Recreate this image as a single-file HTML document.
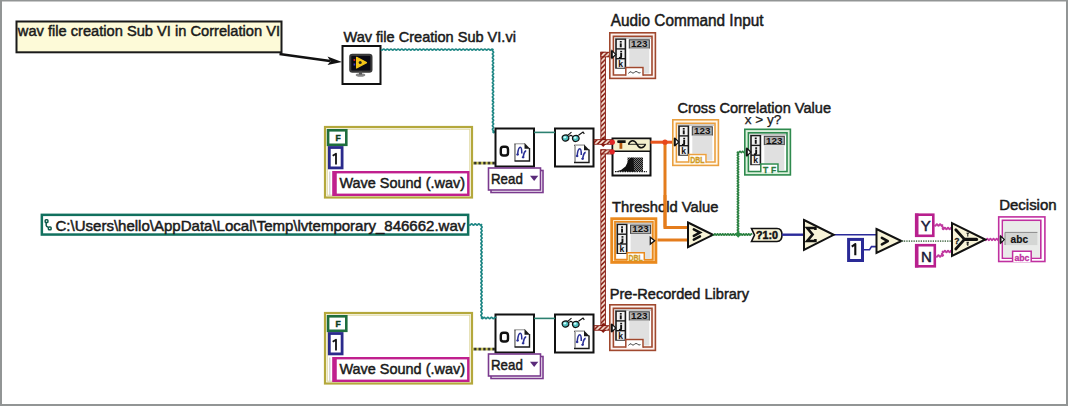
<!DOCTYPE html>
<html><head><meta charset="utf-8"><style>
html,body{margin:0;padding:0;background:#fff;}
body{width:1068px;height:406px;overflow:hidden;}
svg{display:block;}
</style></head><body>
<svg width="1068" height="406" viewBox="0 0 1068 406" font-family='"Liberation Sans", sans-serif'>
<defs>
<pattern id="stripe" patternUnits="userSpaceOnUse" width="4.8" height="4.8">
 <rect width="4.8" height="4.8" fill="#861a10"/>
 <path d="M-1 5.8 L5.8 -1 M-1 1 L1 -1 M3.8 5.8 L5.8 3.8" stroke="#fff2e4" stroke-width="1.7"/>
</pattern>
<pattern id="chk" patternUnits="userSpaceOnUse" width="2" height="2">
 <rect width="2" height="2" fill="#777"/>
 <rect width="1" height="1" fill="#111"/><rect x="1" y="1" width="1" height="1" fill="#111"/>
</pattern>
<pattern id="clus" patternUnits="userSpaceOnUse" width="4.6" height="5">
 <rect width="4.6" height="5" fill="#c8c458"/>
 <rect x="0.3" y="0" width="2.2" height="5" fill="#222"/>
</pattern>
</defs>
<rect x="0" y="0" width="1068" height="406" fill="#929595"/>
<rect x="2" y="1.5" width="1064" height="402.5" fill="#fff"/>
<rect x="16.5" y="21.5" width="265" height="30.8" fill="#fdfad8" stroke="#1a1a1a" stroke-width="2"/>
<text x="17.8" y="36.3" font-size="15.5" font-weight="normal" fill="#1a1a1a" text-anchor="start" textLength="262.2" lengthAdjust="spacingAndGlyphs"  stroke="#1a1a1a" stroke-width="0.5">wav file creation Sub VI in Correlation VI</text>
<path d="M279.5 54 L330 61" stroke="#111" stroke-width="2.6" fill="none"/>
<path d="M342 62 L327.5 56.5 L330.5 61.3 L327.5 65 Z" fill="#111"/>
<text x="343.5" y="42" font-size="14.8" font-weight="normal" fill="#1a1a1a" text-anchor="start" textLength="172.4" lengthAdjust="spacingAndGlyphs"  stroke="#1a1a1a" stroke-width="0.5">Wav file Creation Sub VI.vi</text>
<rect x="342.5" y="46" width="38" height="38" fill="#fff" stroke="#111" stroke-width="2"/>
<rect x="349.2" y="53.8" width="23.3" height="18.9" rx="3.2" fill="#3a3a3a"/>
<rect x="351.3" y="55.9" width="19.1" height="14.7" rx="0.8" fill="#0a0a14"/>
<path d="M356.6 57.3 L366.5 62.6 L356.6 68 Z" fill="#f2c418" stroke="#f2c418" stroke-width="1.2" stroke-linejoin="round"/>
<circle cx="360.2" cy="62.6" r="1.5" fill="#222"/>
<rect x="353.6" y="59" width="1.6" height="2" fill="#d02020"/><rect x="353.6" y="63.5" width="1.6" height="2" fill="#4040d0"/>
<ellipse cx="360.5" cy="75" rx="4.8" ry="1.8" fill="#888"/>
<rect x="359" y="71.5" width="3" height="3" fill="#555"/>
<path d="M381.00 49.60 Q381.90 50.80 382.81 49.60 Q383.71 48.40 384.61 49.60 Q385.52 50.80 386.42 49.60 Q387.32 48.40 388.23 49.60 Q389.13 50.80 390.03 49.60 Q390.94 48.40 391.84 49.60 Q392.74 50.80 393.65 49.60 Q394.55 48.40 395.45 49.60 Q396.35 50.80 397.26 49.60 Q398.16 48.40 399.06 49.60 Q399.97 50.80 400.87 49.60 Q401.77 48.40 402.68 49.60 Q403.58 50.80 404.48 49.60 Q405.39 48.40 406.29 49.60 Q407.19 50.80 408.10 49.60 Q409.00 48.40 409.90 49.60 Q410.81 50.80 411.71 49.60 Q412.61 48.40 413.52 49.60 Q414.42 50.80 415.32 49.60 Q416.23 48.40 417.13 49.60 Q418.03 50.80 418.94 49.60 Q419.84 48.40 420.74 49.60 Q421.65 50.80 422.55 49.60 Q423.45 48.40 424.35 49.60 Q425.26 50.80 426.16 49.60 Q427.06 48.40 427.97 49.60 Q428.87 50.80 429.77 49.60 Q430.68 48.40 431.58 49.60 Q432.48 50.80 433.39 49.60 Q434.29 48.40 435.19 49.60 Q436.10 50.80 437.00 49.60 Q437.90 48.40 438.81 49.60 Q439.71 50.80 440.61 49.60 Q441.52 48.40 442.42 49.60 Q443.32 50.80 444.23 49.60 Q445.13 48.40 446.03 49.60 Q446.94 50.80 447.84 49.60 Q448.74 48.40 449.65 49.60 Q450.55 50.80 451.45 49.60 Q452.35 48.40 453.26 49.60 Q454.16 50.80 455.06 49.60 Q455.97 48.40 456.87 49.60 Q457.77 50.80 458.68 49.60 Q459.58 48.40 460.48 49.60 Q461.39 50.80 462.29 49.60 Q463.19 48.40 464.10 49.60 Q465.00 50.80 465.90 49.60 Q466.81 48.40 467.71 49.60 Q468.61 50.80 469.52 49.60 Q470.42 48.40 471.32 49.60 Q472.23 50.80 473.13 49.60 Q474.03 48.40 474.94 49.60 Q475.84 50.80 476.74 49.60 Q477.65 48.40 478.55 49.60 Q479.45 50.80 480.35 49.60 Q481.26 48.40 482.16 49.60 Q483.06 50.80 483.97 49.60 Q484.87 48.40 485.77 49.60 Q486.68 50.80 487.58 49.60 Q488.48 48.40 489.39 49.60 Q490.29 50.80 491.19 49.60 Q492.10 48.40 493.00 49.60 Q491.80 50.50 493.00 51.39 Q494.20 52.29 493.00 53.18 Q491.80 54.08 493.00 54.97 Q494.20 55.87 493.00 56.77 Q491.80 57.66 493.00 58.56 Q494.20 59.45 493.00 60.35 Q491.80 61.24 493.00 62.14 Q494.20 63.03 493.00 63.93 Q491.80 64.83 493.00 65.72 Q494.20 66.62 493.00 67.51 Q491.80 68.41 493.00 69.30 Q494.20 70.20 493.00 71.10 Q491.80 71.99 493.00 72.89 Q494.20 73.78 493.00 74.68 Q491.80 75.57 493.00 76.47 Q494.20 77.37 493.00 78.26 Q491.80 79.16 493.00 80.05 Q494.20 80.95 493.00 81.84 Q491.80 82.74 493.00 83.63 Q494.20 84.53 493.00 85.43 Q491.80 86.32 493.00 87.22 Q494.20 88.11 493.00 89.01 Q491.80 89.90 493.00 90.80 Q494.20 91.70 493.00 92.59 Q491.80 93.49 493.00 94.38 Q494.20 95.28 493.00 96.17 Q491.80 97.07 493.00 97.97 Q494.20 98.86 493.00 99.76 Q491.80 100.65 493.00 101.55 Q494.20 102.44 493.00 103.34 Q491.80 104.23 493.00 105.13 Q494.20 106.03 493.00 106.92 Q491.80 107.82 493.00 108.71 Q494.20 109.61 493.00 110.50 Q491.80 111.40 493.00 112.30 Q494.20 113.19 493.00 114.09 Q491.80 114.98 493.00 115.88 Q494.20 116.77 493.00 117.67 Q491.80 118.57 493.00 119.46 Q494.20 120.36 493.00 121.25 Q491.80 122.15 493.00 123.04 Q494.20 123.94 493.00 124.83 Q491.80 125.73 493.00 126.63 Q494.20 127.52 493.00 128.42 Q491.80 129.31 493.00 130.21 Q494.20 131.10 493.00 132.00 Q493.75 133.20 494.50 132.00 Q495.25 130.80 496.00 132.00" fill="none" stroke="#1d8684" stroke-width="1.7" stroke-linejoin="round"/>
<rect x="325" y="127.0" width="147" height="70.5" fill="#fff" stroke="#b4a83c" stroke-width="2.2"/>
<rect x="327.2" y="129.2" width="142.6" height="66" fill="none" stroke="#ddd69a" stroke-width="1"/>
<rect x="328.1" y="130.3" width="18.2" height="14.5" fill="#fff" stroke="#1e6e3e" stroke-width="2.6"/>
<text x="338.1" y="141.4" font-size="9.5" font-weight="bold" fill="#0e3e1e" text-anchor="middle" textLength="5.2" lengthAdjust="spacingAndGlyphs"  stroke="#0e3e1e" stroke-width="0.5">F</text>
<rect x="329.3" y="147.5" width="12.8" height="20.4" fill="#fff" stroke="#2a2a8c" stroke-width="2.8"/>
<path d="M336 164.5 V153.7 L332.7 155.7" fill="none" stroke="#111" stroke-width="1.8" stroke-linejoin="round"/>
<rect x="329.2" y="171.5" width="1.2" height="24" fill="#ccc"/>
<rect x="335" y="172.2" width="133.3" height="22.6" fill="#fff" stroke="#c0208e" stroke-width="2.4"/>
<rect x="332.2" y="171.0" width="4.5" height="25" fill="#c0208e"/>
<text x="339.4" y="188.0" font-size="15.5" font-weight="normal" fill="#1a1a1a" text-anchor="start" textLength="125.6" lengthAdjust="spacingAndGlyphs"  stroke="#1a1a1a" stroke-width="0.5">Wave Sound (.wav)</text>
<rect x="472.5" y="161.7" width="22.5" height="2.8" fill="url(#clus)"/>
<rect x="325" y="313.0" width="147" height="70.5" fill="#fff" stroke="#b4a83c" stroke-width="2.2"/>
<rect x="327.2" y="315.2" width="142.6" height="66" fill="none" stroke="#ddd69a" stroke-width="1"/>
<rect x="328.1" y="316.3" width="18.2" height="14.5" fill="#fff" stroke="#1e6e3e" stroke-width="2.6"/>
<text x="338.1" y="327.4" font-size="9.5" font-weight="bold" fill="#0e3e1e" text-anchor="middle" textLength="5.2" lengthAdjust="spacingAndGlyphs"  stroke="#0e3e1e" stroke-width="0.5">F</text>
<rect x="329.3" y="333.5" width="12.8" height="20.4" fill="#fff" stroke="#2a2a8c" stroke-width="2.8"/>
<path d="M336 350.5 V339.7 L332.7 341.7" fill="none" stroke="#111" stroke-width="1.8" stroke-linejoin="round"/>
<rect x="329.2" y="357.5" width="1.2" height="24" fill="#ccc"/>
<rect x="335" y="358.2" width="133.3" height="22.6" fill="#fff" stroke="#c0208e" stroke-width="2.4"/>
<rect x="332.2" y="357.0" width="4.5" height="25" fill="#c0208e"/>
<text x="339.4" y="374.0" font-size="15.5" font-weight="normal" fill="#1a1a1a" text-anchor="start" textLength="125.6" lengthAdjust="spacingAndGlyphs"  stroke="#1a1a1a" stroke-width="0.5">Wave Sound (.wav)</text>
<rect x="472.5" y="347.7" width="22.5" height="2.8" fill="url(#clus)"/>
<rect x="495.5" y="128.5" width="38.5" height="38" fill="#fff" stroke="#111" stroke-width="2"/>
<rect x="500.8" y="146.8" width="7.2" height="8.7" rx="2.6" fill="none" stroke="#111" stroke-width="2.4"/>
<path d="M515.2 161.0 V143.7 H525.2" fill="#fff" stroke="#a8a8a8" stroke-width="1.4"/>
<path d="M515.2 143.7 h10 l4.3 4.3 v13 h-14.3 z" fill="#fff" stroke="none"/>
<path d="M515.2 143.7 V161.0 H529.5 V148.0" fill="none" stroke="#1a1a1a" stroke-width="1.4"/>
<path d="M515.2 144.4 V160.3" stroke="#b0b0b0" stroke-width="1.4"/>
<path d="M515.2 143.7 H524.9" stroke="#b0b0b0" stroke-width="1.4"/>
<path d="M524.5 143.0 L530.2 148.7 H524.5 Z" fill="#1a1a1a"/>
<path d="M517.6 154.5 C518.1 149.0 519.0 147.3 520.3 147.3 C521.5 147.3 521.8 149.0 521.8 153.5 M523.2 157.2 C523.8 153.0 524.5 151.0 526.2 150.9" fill="none" stroke="#2a3098" stroke-width="1.6"/>
<ellipse cx="517.6" cy="154.6" rx="1.4" ry="1.1" fill="#2a3098"/><ellipse cx="523.1" cy="157.3" rx="1.4" ry="1.1" fill="#2a3098"/>
<rect x="491" y="170.5" width="52" height="22" fill="#fff" stroke="#7a3a8e" stroke-width="1.6"/>
<rect x="488.5" y="168.0" width="52" height="22" fill="#fff" stroke="#7a3a8e" stroke-width="1.6"/>
<text x="491" y="184.0" font-size="15" font-weight="normal" fill="#1a1a1a" text-anchor="start" textLength="31.8" lengthAdjust="spacingAndGlyphs"  stroke="#1a1a1a" stroke-width="0.5">Read</text>
<path d="M530 175.8 h8.3 l-4.15 5.2 z" fill="#5a2a7a"/>
<rect x="495.5" y="314.5" width="38.5" height="38" fill="#fff" stroke="#111" stroke-width="2"/>
<rect x="500.8" y="332.8" width="7.2" height="8.7" rx="2.6" fill="none" stroke="#111" stroke-width="2.4"/>
<path d="M515.2 347.0 V329.7 H525.2" fill="#fff" stroke="#a8a8a8" stroke-width="1.4"/>
<path d="M515.2 329.7 h10 l4.3 4.3 v13 h-14.3 z" fill="#fff" stroke="none"/>
<path d="M515.2 329.7 V347.0 H529.5 V334.0" fill="none" stroke="#1a1a1a" stroke-width="1.4"/>
<path d="M515.2 330.4 V346.3" stroke="#b0b0b0" stroke-width="1.4"/>
<path d="M515.2 329.7 H524.9" stroke="#b0b0b0" stroke-width="1.4"/>
<path d="M524.5 329.0 L530.2 334.7 H524.5 Z" fill="#1a1a1a"/>
<path d="M517.6 340.5 C518.1 335.0 519.0 333.3 520.3 333.3 C521.5 333.3 521.8 335.0 521.8 339.5 M523.2 343.2 C523.8 339.0 524.5 337.0 526.2 336.9" fill="none" stroke="#2a3098" stroke-width="1.6"/>
<ellipse cx="517.6" cy="340.6" rx="1.4" ry="1.1" fill="#2a3098"/><ellipse cx="523.1" cy="343.3" rx="1.4" ry="1.1" fill="#2a3098"/>
<rect x="491" y="356.5" width="52" height="22" fill="#fff" stroke="#7a3a8e" stroke-width="1.6"/>
<rect x="488.5" y="354.0" width="52" height="22" fill="#fff" stroke="#7a3a8e" stroke-width="1.6"/>
<text x="491" y="370.0" font-size="15" font-weight="normal" fill="#1a1a1a" text-anchor="start" textLength="31.8" lengthAdjust="spacingAndGlyphs"  stroke="#1a1a1a" stroke-width="0.5">Read</text>
<path d="M530 361.8 h8.3 l-4.15 5.2 z" fill="#5a2a7a"/>
<rect x="555" y="128.5" width="38.5" height="38" fill="#fff" stroke="#111" stroke-width="2"/>
<g stroke="#111" stroke-width="1.2"><path d="M568 135.1 L571.5 132.1 M578.5 135.3 L583 132.0 L584.3 133.8 M569.3 136.5 Q571 134.3 572.6 136.7" fill="none"/><ellipse cx="565.5" cy="138.0" rx="3.3" ry="3" fill="#4cbcbc" transform="rotate(-20 565.5 138.0)"/><ellipse cx="575.8" cy="138.4" rx="3.3" ry="3" fill="#4cbcbc" transform="rotate(-20 575.8 138.4)"/></g>
<ellipse cx="564.8" cy="137.3" rx="1.5" ry="1.1" fill="#cff"/><ellipse cx="575.1" cy="137.7" rx="1.5" ry="1.1" fill="#cff"/>
<path d="M574.7 162.5 V145.2 H584.7" fill="#fff" stroke="#a8a8a8" stroke-width="1.4"/>
<path d="M574.7 145.2 h10 l4.3 4.3 v13 h-14.3 z" fill="#fff" stroke="none"/>
<path d="M574.7 145.2 V162.5 H589 V149.5" fill="none" stroke="#1a1a1a" stroke-width="1.4"/>
<path d="M574.7 145.9 V161.8" stroke="#b0b0b0" stroke-width="1.4"/>
<path d="M574.7 145.2 H584.4" stroke="#b0b0b0" stroke-width="1.4"/>
<path d="M584 144.5 L589.7 150.2 H584 Z" fill="#1a1a1a"/>
<path d="M577.1 156.0 C577.6 150.5 578.5 148.8 579.8 148.8 C581 148.8 581.3 150.5 581.3 155.0 M582.7 158.7 C583.3 154.5 584 152.5 585.7 152.4" fill="none" stroke="#2a3098" stroke-width="1.6"/>
<ellipse cx="577.1" cy="156.1" rx="1.4" ry="1.1" fill="#2a3098"/><ellipse cx="582.6" cy="158.8" rx="1.4" ry="1.1" fill="#2a3098"/>
<rect x="555" y="314.5" width="38.5" height="38" fill="#fff" stroke="#111" stroke-width="2"/>
<g stroke="#111" stroke-width="1.2"><path d="M568 321.1 L571.5 318.1 M578.5 321.3 L583 318.0 L584.3 319.8 M569.3 322.5 Q571 320.3 572.6 322.7" fill="none"/><ellipse cx="565.5" cy="324.0" rx="3.3" ry="3" fill="#4cbcbc" transform="rotate(-20 565.5 324.0)"/><ellipse cx="575.8" cy="324.4" rx="3.3" ry="3" fill="#4cbcbc" transform="rotate(-20 575.8 324.4)"/></g>
<ellipse cx="564.8" cy="323.3" rx="1.5" ry="1.1" fill="#cff"/><ellipse cx="575.1" cy="323.7" rx="1.5" ry="1.1" fill="#cff"/>
<path d="M574.7 348.5 V331.2 H584.7" fill="#fff" stroke="#a8a8a8" stroke-width="1.4"/>
<path d="M574.7 331.2 h10 l4.3 4.3 v13 h-14.3 z" fill="#fff" stroke="none"/>
<path d="M574.7 331.2 V348.5 H589 V335.5" fill="none" stroke="#1a1a1a" stroke-width="1.4"/>
<path d="M574.7 331.9 V347.8" stroke="#b0b0b0" stroke-width="1.4"/>
<path d="M574.7 331.2 H584.4" stroke="#b0b0b0" stroke-width="1.4"/>
<path d="M584 330.5 L589.7 336.2 H584 Z" fill="#1a1a1a"/>
<path d="M577.1 342.0 C577.6 336.5 578.5 334.8 579.8 334.8 C581 334.8 581.3 336.5 581.3 341.0 M582.7 344.7 C583.3 340.5 584 338.5 585.7 338.4" fill="none" stroke="#2a3098" stroke-width="1.6"/>
<ellipse cx="577.1" cy="342.1" rx="1.4" ry="1.1" fill="#2a3098"/><ellipse cx="582.6" cy="344.8" rx="1.4" ry="1.1" fill="#2a3098"/>
<path d="M534 132.4 H555" stroke="#2c8070" stroke-width="1.6"/>
<path d="M534 318.4 H555" stroke="#2c8070" stroke-width="1.6"/>
<rect x="41.85" y="214.85" width="426.3" height="19.7" fill="#fff" stroke="#11705e" stroke-width="2.5"/>
<g fill="none" stroke="#0e5a4c" stroke-width="1.5"><rect x="45.2" y="219.8" width="2.7" height="2.7" rx="0.8"/><rect x="48.4" y="226.9" width="2.7" height="2.9" rx="0.8"/><path d="M46.2 222.6 V225.4 Q46.3 226.7 48.3 227.2"/></g>
<text x="55.5" y="231.3" font-size="15" font-weight="normal" fill="#1a1a1a" text-anchor="start" textLength="409.8" lengthAdjust="spacingAndGlyphs"  stroke="#1a1a1a" stroke-width="0.5">C:\Users\hello\AppData\Local\Temp\lvtemporary_846662.wav</text>
<path d="M469.00 224.50 Q469.89 225.70 470.79 224.50 Q471.68 223.30 472.57 224.50 Q473.46 225.70 474.36 224.50 Q475.25 223.30 476.14 224.50 Q477.04 225.70 477.93 224.50 Q478.82 223.30 479.71 224.50 Q480.61 225.70 481.50 224.50 Q480.30 225.40 481.50 226.30 Q482.70 227.20 481.50 228.10 Q480.30 229.00 481.50 229.89 Q482.70 230.79 481.50 231.69 Q480.30 232.59 481.50 233.49 Q482.70 234.39 481.50 235.29 Q480.30 236.19 481.50 237.09 Q482.70 237.99 481.50 238.88 Q480.30 239.78 481.50 240.68 Q482.70 241.58 481.50 242.48 Q480.30 243.38 481.50 244.28 Q482.70 245.18 481.50 246.08 Q480.30 246.98 481.50 247.88 Q482.70 248.77 481.50 249.67 Q480.30 250.57 481.50 251.47 Q482.70 252.37 481.50 253.27 Q480.30 254.17 481.50 255.07 Q482.70 255.97 481.50 256.87 Q480.30 257.76 481.50 258.66 Q482.70 259.56 481.50 260.46 Q480.30 261.36 481.50 262.26 Q482.70 263.16 481.50 264.06 Q480.30 264.96 481.50 265.86 Q482.70 266.75 481.50 267.65 Q480.30 268.55 481.50 269.45 Q482.70 270.35 481.50 271.25 Q480.30 272.15 481.50 273.05 Q482.70 273.95 481.50 274.85 Q480.30 275.75 481.50 276.64 Q482.70 277.54 481.50 278.44 Q480.30 279.34 481.50 280.24 Q482.70 281.14 481.50 282.04 Q480.30 282.94 481.50 283.84 Q482.70 284.74 481.50 285.63 Q480.30 286.53 481.50 287.43 Q482.70 288.33 481.50 289.23 Q480.30 290.13 481.50 291.03 Q482.70 291.93 481.50 292.83 Q480.30 293.73 481.50 294.62 Q482.70 295.52 481.50 296.42 Q480.30 297.32 481.50 298.22 Q482.70 299.12 481.50 300.02 Q480.30 300.92 481.50 301.82 Q482.70 302.72 481.50 303.62 Q480.30 304.51 481.50 305.41 Q482.70 306.31 481.50 307.21 Q480.30 308.11 481.50 309.01 Q482.70 309.91 481.50 310.81 Q480.30 311.71 481.50 312.61 Q482.70 313.50 481.50 314.40 Q480.30 315.30 481.50 316.20 Q482.70 317.10 481.50 318.00 Q482.41 319.20 483.31 318.00 Q484.22 316.80 485.12 318.00 Q486.03 319.20 486.94 318.00 Q487.84 316.80 488.75 318.00 Q489.66 319.20 490.56 318.00 Q491.47 316.80 492.38 318.00 Q493.28 319.20 494.19 318.00 Q495.09 316.80 496.00 318.00" fill="none" stroke="#1d8684" stroke-width="1.7" stroke-linejoin="round"/>
<rect x="600.4" y="51.8" width="5.5" height="92.8" fill="#861a10"/>
<rect x="601.3" y="52.8" width="3.7" height="90.8" fill="url(#stripe)"/>
<path d="M603.2 136.8 L608 141.9 L603.2 147 L598.4 141.9 Z" fill="#861a10"/>
<rect x="593.7" y="139.2" width="18.299999999999955" height="5.5" fill="#861a10"/>
<rect x="594.7" y="140.1" width="16.299999999999955" height="3.7" fill="url(#stripe)"/>
<rect x="600.4" y="149.4" width="5.5" height="181.6" fill="#861a10"/>
<rect x="601.3" y="150.4" width="3.7" height="179.6" fill="url(#stripe)"/>
<rect x="600.4" y="149.4" width="11.600000000000023" height="5" fill="#861a10"/>
<rect x="601.4" y="150.3" width="9.600000000000023" height="3.2" fill="url(#stripe)"/>
<path d="M603.2 322.8 L608 327.9 L603.2 333 L598.4 327.9 Z" fill="#861a10"/>
<rect x="593.7" y="325.2" width="16.299999999999955" height="5.5" fill="#861a10"/>
<rect x="594.7" y="326.09999999999997" width="14.299999999999955" height="3.7" fill="url(#stripe)"/>
<rect x="600.4" y="51.8" width="9.600000000000023" height="5.5" fill="#861a10"/>
<rect x="601.4" y="52.699999999999996" width="7.600000000000023" height="3.7" fill="url(#stripe)"/>
<text x="610.8" y="26.2" font-size="16" font-weight="normal" fill="#1a1a1a" text-anchor="start" textLength="152.7" lengthAdjust="spacingAndGlyphs"  stroke="#1a1a1a" stroke-width="0.5">Audio Command Input</text>
<rect x="609.8" y="32.8" width="45.6" height="45.6" fill="#fdf2ee" stroke="#a0482e" stroke-width="1.6"/>
<path d="M625.8 75 H613.4 V36.4 H652 V75 H643" fill="#fff" stroke="#a0482e" stroke-width="1.6"/>
<rect x="614.5" y="37.3" width="36.5" height="1.6" fill="#c4c4c4"/>
<rect x="615.2" y="38.5" width="11" height="30.2" fill="#1a1a1a"/>
<rect x="616.8" y="39.8" width="7.8" height="8.4" fill="#f2f2f2"/>
<rect x="619.8000000000001" y="41.0" width="1.9" height="1.6" fill="#111"/><rect x="619.8000000000001" y="43.3" width="1.9" height="4" fill="#111"/>
<rect x="616.8" y="49.599999999999994" width="7.8" height="8.4" fill="#f2f2f2"/>
<rect x="620.2" y="50.8" width="1.9" height="1.6" fill="#111"/><path d="M621.1500000000001 53.099999999999994 V56.8 Q621.1500000000001 57.99999999999999 618.9000000000001 57.8" fill="none" stroke="#111" stroke-width="1.9"/>
<rect x="616.8" y="59.4" width="7.8" height="8.4" fill="#f2f2f2"/>
<text x="620.7" y="66.7" font-size="8.6" font-weight="bold" fill="#111" text-anchor="middle">k</text>
<rect x="629.3" y="39.8" width="20" height="8.4" fill="#b2b2b2" stroke="#3a3a3a" stroke-width="1"/>
<text x="639.3" y="47" font-size="9" font-weight="bold" fill="#111" text-anchor="middle" textLength="16.5" lengthAdjust="spacingAndGlyphs">123</text>
<rect x="629.3" y="48.4" width="20" height="18.3" fill="#e0e0e0"/>
<rect x="643.8" y="66" width="5.5" height="7.5" fill="#e0e0e0"/>
<path d="M625.8 75.8 V67.5 H643 V75.8" fill="#fff" stroke="#a0482e" stroke-width="1.5"/>
<path d="M628.5 73.5 q1.5 -3 3 -1.2 t3 0 t3 -0.2 t3 0.5" fill="none" stroke="#333" stroke-width="0.9"/>
<path d="M611.6 50.4 v8" stroke="#111" stroke-width="1.6"/>
<path d="M612.2 50.8 l3.6 3.6 l-3.6 3.6 z" fill="#fff" stroke="#111" stroke-width="1.2"/>
<text x="609.8" y="298.8" font-size="15" font-weight="normal" fill="#1a1a1a" text-anchor="start" textLength="139.2" lengthAdjust="spacingAndGlyphs"  stroke="#1a1a1a" stroke-width="0.5">Pre-Recorded Library</text>
<rect x="609.8" y="304.8" width="45.6" height="45.6" fill="#fdf2ee" stroke="#a0482e" stroke-width="1.6"/>
<path d="M625.8 347 H613.4 V308.4 H652 V347 H643" fill="#fff" stroke="#a0482e" stroke-width="1.6"/>
<rect x="614.5" y="309.3" width="36.5" height="1.6" fill="#c4c4c4"/>
<rect x="615.2" y="310.5" width="11" height="30.2" fill="#1a1a1a"/>
<rect x="616.8" y="311.8" width="7.8" height="8.4" fill="#f2f2f2"/>
<rect x="619.8000000000001" y="313.0" width="1.9" height="1.6" fill="#111"/><rect x="619.8000000000001" y="315.3" width="1.9" height="4" fill="#111"/>
<rect x="616.8" y="321.6" width="7.8" height="8.4" fill="#f2f2f2"/>
<rect x="620.2" y="322.8" width="1.9" height="1.6" fill="#111"/><path d="M621.1500000000001 325.1 V328.8 Q621.1500000000001 330.0 618.9000000000001 329.8" fill="none" stroke="#111" stroke-width="1.9"/>
<rect x="616.8" y="331.40000000000003" width="7.8" height="8.4" fill="#f2f2f2"/>
<text x="620.7" y="338.70000000000005" font-size="8.6" font-weight="bold" fill="#111" text-anchor="middle">k</text>
<rect x="629.3" y="311.8" width="20" height="8.4" fill="#b2b2b2" stroke="#3a3a3a" stroke-width="1"/>
<text x="639.3" y="319" font-size="9" font-weight="bold" fill="#111" text-anchor="middle" textLength="16.5" lengthAdjust="spacingAndGlyphs">123</text>
<rect x="629.3" y="320.4" width="20" height="18.3" fill="#e0e0e0"/>
<rect x="643.8" y="338" width="5.5" height="7.5" fill="#e0e0e0"/>
<path d="M625.8 347.8 V339.5 H643 V347.8" fill="#fff" stroke="#a0482e" stroke-width="1.5"/>
<path d="M628.5 345.5 q1.5 -3 3 -1.2 t3 0 t3 -0.2 t3 0.5" fill="none" stroke="#333" stroke-width="0.9"/>
<path d="M611.6 324 v8" stroke="#111" stroke-width="1.6"/>
<path d="M612.2 324.4 l3.6 3.6 l-3.6 3.6 z" fill="#fff" stroke="#111" stroke-width="1.2"/>
<rect x="612.5" y="138.5" width="38" height="37" fill="#fff" stroke="#111" stroke-width="2"/>
<rect x="613.5" y="139.5" width="36" height="11.5" fill="#f5f0cc"/>
<path d="M612.5 151.3 H650.5" stroke="#111" stroke-width="1.6"/>
<path d="M617.2 141.6 Q617 140.2 618.4 140.2 H625.6 V143.1 H617.6 Z" fill="#111"/>
<rect x="619.5" y="143" width="2.8" height="5.8" fill="#b4580e"/>
<path d="M628 144.3 H646" stroke="#111" stroke-width="0.9"/>
<path d="M628.5 144.3 C630.5 139.6 634.6 139.6 637 144.3 C639.4 149 643.4 149 645.5 144.3" fill="none" stroke="#111" stroke-width="1.5"/>
<rect x="627.5" y="157.5" width="15.5" height="14" fill="url(#chk)"/>
<path d="M615.5 171.5 L621 170 L625.5 166.5 L628.5 160.5 L631.5 157.8 L633.5 157.8 L634 171.5 Z" fill="#111"/>
<path d="M615 171.6 h32" stroke="#111" stroke-width="1.1" stroke-dasharray="1.4 1"/>
<circle cx="612.3" cy="142.2" r="2.6" fill="#e02626"/><circle cx="612.2" cy="151.8" r="2.6" fill="#e02626"/>
<path d="M650.5 142.2 H674" fill="none" stroke="#e8561e" stroke-width="3"/>
<path d="M665 142 V227.5 H688" fill="none" stroke="#e47c1c" stroke-width="3"/>
<path d="M657.5 240 H688" fill="none" stroke="#e47c1c" stroke-width="3"/>
<circle cx="665" cy="142.2" r="2.6" fill="#e8461a"/>
<text x="677.4" y="112.8" font-size="15.5" font-weight="normal" fill="#1a1a1a" text-anchor="start" textLength="153.6" lengthAdjust="spacingAndGlyphs"  stroke="#1a1a1a" stroke-width="0.5">Cross Correlation Value</text>
<rect x="672.8" y="119.8" width="45.6" height="45.6" fill="#fff8ec" stroke="#eaa040" stroke-width="1.6"/>
<path d="M688.8 162 H676.4 V123.4 H715 V162 H706" fill="#fff" stroke="#eaa040" stroke-width="1.6"/>
<rect x="677.5" y="124.3" width="36.5" height="1.6" fill="#c4c4c4"/>
<rect x="678.2" y="125.5" width="11" height="30.2" fill="#1a1a1a"/>
<rect x="679.8" y="126.8" width="7.8" height="8.4" fill="#f2f2f2"/>
<rect x="682.8000000000001" y="128.0" width="1.9" height="1.6" fill="#111"/><rect x="682.8000000000001" y="130.3" width="1.9" height="4" fill="#111"/>
<rect x="679.8" y="136.6" width="7.8" height="8.4" fill="#f2f2f2"/>
<rect x="683.2" y="137.79999999999998" width="1.9" height="1.6" fill="#111"/><path d="M684.1500000000001 140.1 V143.79999999999998 Q684.1500000000001 145.0 681.9000000000001 144.79999999999998" fill="none" stroke="#111" stroke-width="1.9"/>
<rect x="679.8" y="146.4" width="7.8" height="8.4" fill="#f2f2f2"/>
<text x="683.7" y="153.70000000000002" font-size="8.6" font-weight="bold" fill="#111" text-anchor="middle">k</text>
<rect x="692.3" y="126.8" width="20" height="8.4" fill="#b2b2b2" stroke="#3a3a3a" stroke-width="1"/>
<text x="702.3" y="134" font-size="9" font-weight="bold" fill="#111" text-anchor="middle" textLength="16.5" lengthAdjust="spacingAndGlyphs">123</text>
<rect x="692.3" y="135.4" width="20" height="18.3" fill="#e0e0e0"/>
<rect x="706.8" y="153" width="5.5" height="7.5" fill="#e0e0e0"/>
<path d="M688.8 162.8 V154.5 H706 V162.8" fill="#fff" stroke="#eaa040" stroke-width="1.5"/>
<text x="697.4" y="163" font-size="8.5" font-weight="bold" fill="#d09a22" stroke="#d09a22" stroke-width="0.3" text-anchor="middle" textLength="14.5" lengthAdjust="spacingAndGlyphs">DBL</text>
<path d="M674.6 138 v8" stroke="#111" stroke-width="1.6"/>
<path d="M675.2 138.4 l3.6 3.6 l-3.6 3.6 z" fill="#fff" stroke="#111" stroke-width="1.2"/>
<text x="612" y="211.8" font-size="15.5" font-weight="normal" fill="#1a1a1a" text-anchor="start" textLength="106.4" lengthAdjust="spacingAndGlyphs"  stroke="#1a1a1a" stroke-width="0.5">Threshold Value</text>
<rect x="611.6999999999999" y="218.70000000000002" width="44.2" height="43.7" fill="#fff4dc" stroke="#ea8a1e" stroke-width="2.8"/>
<path d="M627.0999999999999 259.7 H615.0999999999999 V222.10000000000002 H652.6999999999999 V259.7 H644.3" fill="#fff" stroke="#ea8a1e" stroke-width="2"/>
<rect x="615.8" y="222.60000000000002" width="36.5" height="1.6" fill="#c4c4c4"/>
<rect x="616.5" y="223.8" width="11" height="30.2" fill="#1a1a1a"/>
<rect x="618.0999999999999" y="225.10000000000002" width="7.8" height="8.4" fill="#f2f2f2"/>
<rect x="621.1" y="226.3" width="1.9" height="1.6" fill="#111"/><rect x="621.1" y="228.60000000000002" width="1.9" height="4" fill="#111"/>
<rect x="618.0999999999999" y="234.90000000000003" width="7.8" height="8.4" fill="#f2f2f2"/>
<rect x="621.5" y="236.10000000000002" width="1.9" height="1.6" fill="#111"/><path d="M622.45 238.40000000000003 V242.10000000000002 Q622.45 243.30000000000004 620.2 243.10000000000002" fill="none" stroke="#111" stroke-width="1.9"/>
<rect x="618.0999999999999" y="244.70000000000002" width="7.8" height="8.4" fill="#f2f2f2"/>
<text x="622.0" y="252.00000000000003" font-size="8.6" font-weight="bold" fill="#111" text-anchor="middle">k</text>
<rect x="630.5999999999999" y="225.10000000000002" width="20" height="8.4" fill="#b2b2b2" stroke="#3a3a3a" stroke-width="1"/>
<text x="640.5999999999999" y="232.3" font-size="9" font-weight="bold" fill="#111" text-anchor="middle" textLength="16.5" lengthAdjust="spacingAndGlyphs">123</text>
<rect x="630.5999999999999" y="233.70000000000002" width="20" height="18.3" fill="#e0e0e0"/>
<rect x="645.0999999999999" y="251.3" width="5.5" height="7.5" fill="#e0e0e0"/>
<path d="M627.0999999999999 260.5 V252.8 H644.3 V260.5" fill="#fff" stroke="#ea8a1e" stroke-width="1.5"/>
<text x="635.6999999999999" y="261.3" font-size="8.5" font-weight="bold" fill="#d09a22" stroke="#d09a22" stroke-width="0.3" text-anchor="middle" textLength="14.5" lengthAdjust="spacingAndGlyphs">DBL</text>
<path d="M650.3 237.3 l4.4 3.4 l-4.4 3.4 z" fill="#fff" stroke="#111" stroke-width="1.3"/>
<path d="M665 195 V227.5" fill="none" stroke="#e47c1c" stroke-width="3"/>
<path d="M688 222.5 L713 234.8 L688 247.2 Z" fill="#f8f4d8" stroke="#111" stroke-width="2" stroke-linejoin="miter"/>
<path d="M693.8 229.3 L700 232.6 L693.8 235.9 M693.8 239.6 L700 236.4" fill="none" stroke="#111" stroke-width="2.5" stroke-linecap="round"/>
<path d="M713.00 234.60 Q713.65 236.00 714.30 234.60 Q714.95 233.20 715.60 234.60 Q716.25 236.00 716.90 234.60 Q717.55 233.20 718.20 234.60 Q718.85 236.00 719.50 234.60 Q720.15 233.20 720.80 234.60 Q721.45 236.00 722.10 234.60 Q722.75 233.20 723.40 234.60 Q724.05 236.00 724.70 234.60 Q725.35 233.20 726.00 234.60 Q726.65 236.00 727.30 234.60 Q727.95 233.20 728.60 234.60 Q729.25 236.00 729.90 234.60 Q730.55 233.20 731.20 234.60 Q731.85 236.00 732.50 234.60 Q733.15 233.20 733.80 234.60 Q734.45 236.00 735.10 234.60 Q735.75 233.20 736.40 234.60 Q737.05 236.00 737.70 234.60 Q738.35 233.20 739.00 234.60 Q739.65 236.00 740.30 234.60 Q740.95 233.20 741.60 234.60 Q742.25 236.00 742.90 234.60 Q743.55 233.20 744.20 234.60 Q744.85 236.00 745.50 234.60 Q746.15 233.20 746.80 234.60 Q747.45 236.00 748.10 234.60 Q748.75 233.20 749.40 234.60 Q750.05 236.00 750.70 234.60 Q751.35 233.20 752.00 234.60" fill="none" stroke="#2a8040" stroke-width="1.6" stroke-linejoin="round"/>
<path d="M738.00 234.60 Q739.40 233.95 738.00 233.31 Q736.60 232.66 738.00 232.02 Q739.40 231.37 738.00 230.73 Q736.60 230.08 738.00 229.44 Q739.40 228.79 738.00 228.15 Q736.60 227.50 738.00 226.86 Q739.40 226.21 738.00 225.57 Q736.60 224.92 738.00 224.28 Q739.40 223.63 738.00 222.98 Q736.60 222.34 738.00 221.69 Q739.40 221.05 738.00 220.40 Q736.60 219.76 738.00 219.11 Q739.40 218.47 738.00 217.82 Q736.60 217.18 738.00 216.53 Q739.40 215.89 738.00 215.24 Q736.60 214.60 738.00 213.95 Q739.40 213.30 738.00 212.66 Q736.60 212.01 738.00 211.37 Q739.40 210.72 738.00 210.08 Q736.60 209.43 738.00 208.79 Q739.40 208.14 738.00 207.50 Q736.60 206.85 738.00 206.21 Q739.40 205.56 738.00 204.92 Q736.60 204.27 738.00 203.62 Q739.40 202.98 738.00 202.33 Q736.60 201.69 738.00 201.04 Q739.40 200.40 738.00 199.75 Q736.60 199.11 738.00 198.46 Q739.40 197.82 738.00 197.17 Q736.60 196.53 738.00 195.88 Q739.40 195.24 738.00 194.59 Q736.60 193.95 738.00 193.30 Q739.40 192.65 738.00 192.01 Q736.60 191.36 738.00 190.72 Q739.40 190.07 738.00 189.43 Q736.60 188.78 738.00 188.14 Q739.40 187.49 738.00 186.85 Q736.60 186.20 738.00 185.56 Q739.40 184.91 738.00 184.27 Q736.60 183.62 738.00 182.97 Q739.40 182.33 738.00 181.68 Q736.60 181.04 738.00 180.39 Q739.40 179.75 738.00 179.10 Q736.60 178.46 738.00 177.81 Q739.40 177.17 738.00 176.52 Q736.60 175.88 738.00 175.23 Q739.40 174.59 738.00 173.94 Q736.60 173.30 738.00 172.65 Q739.40 172.00 738.00 171.36 Q736.60 170.71 738.00 170.07 Q739.40 169.42 738.00 168.78 Q736.60 168.13 738.00 167.49 Q739.40 166.84 738.00 166.20 Q736.60 165.55 738.00 164.91 Q739.40 164.26 738.00 163.62 Q736.60 162.97 738.00 162.32 Q739.40 161.68 738.00 161.03 Q736.60 160.39 738.00 159.74 Q739.40 159.10 738.00 158.45 Q736.60 157.81 738.00 157.16 Q739.40 156.52 738.00 155.87 Q736.60 155.23 738.00 154.58 Q739.40 153.94 738.00 153.29 Q736.60 152.65 738.00 152.00 Q738.67 153.40 739.33 152.00 Q740.00 150.60 740.67 152.00 Q741.33 153.40 742.00 152.00 Q742.67 150.60 743.33 152.00 Q744.00 153.40 744.67 152.00 Q745.33 150.60 746.00 152.00" fill="none" stroke="#2a8040" stroke-width="1.6" stroke-linejoin="round"/>
<path d="M738.2 230.9 L741.2 234.4 L738.2 237.8 L735.3 234.4 Z" fill="#2a8a44"/>
<text x="744.7" y="123.5" font-size="13.5" font-weight="normal" fill="#1a1a1a" text-anchor="start" textLength="36.6" lengthAdjust="spacingAndGlyphs"  stroke="#1a1a1a" stroke-width="0.25">x &gt; y?</text>
<rect x="744.8" y="129.3" width="45.6" height="45.6" fill="#dcf0dc" stroke="#2e8a4e" stroke-width="1.6"/>
<path d="M760.8 171.5 H748.4 V132.9 H787 V171.5 H778" fill="#fff" stroke="#2e8a4e" stroke-width="1.6"/>
<rect x="749.5" y="133.8" width="36.5" height="1.6" fill="#c4c4c4"/>
<rect x="750.2" y="135.0" width="11" height="30.2" fill="#1a1a1a"/>
<rect x="751.8" y="136.3" width="7.8" height="8.4" fill="#f2f2f2"/>
<rect x="754.8000000000001" y="137.5" width="1.9" height="1.6" fill="#111"/><rect x="754.8000000000001" y="139.8" width="1.9" height="4" fill="#111"/>
<rect x="751.8" y="146.10000000000002" width="7.8" height="8.4" fill="#f2f2f2"/>
<rect x="755.2" y="147.3" width="1.9" height="1.6" fill="#111"/><path d="M756.1500000000001 149.60000000000002 V153.3 Q756.1500000000001 154.50000000000003 753.9000000000001 154.3" fill="none" stroke="#111" stroke-width="1.9"/>
<rect x="751.8" y="155.9" width="7.8" height="8.4" fill="#f2f2f2"/>
<text x="755.7" y="163.20000000000002" font-size="8.6" font-weight="bold" fill="#111" text-anchor="middle">k</text>
<rect x="764.3" y="136.3" width="20" height="8.4" fill="#b2b2b2" stroke="#3a3a3a" stroke-width="1"/>
<text x="774.3" y="143.5" font-size="9" font-weight="bold" fill="#111" text-anchor="middle" textLength="16.5" lengthAdjust="spacingAndGlyphs">123</text>
<rect x="764.3" y="144.9" width="20" height="18.3" fill="#e0e0e0"/>
<rect x="778.8" y="162.5" width="5.5" height="7.5" fill="#e0e0e0"/>
<path d="M760.8 172.3 V164.0 H778 V172.3" fill="#fff" stroke="#2e8a4e" stroke-width="1.5"/>
<text x="769.6" y="172.7" font-size="8.5" font-weight="bold" fill="#2a7a40" stroke="#2a7a40" stroke-width="0.3" text-anchor="middle" textLength="13" lengthAdjust="spacing">TF</text>
<path d="M746.6 148.1 v8" stroke="#111" stroke-width="1.6"/>
<path d="M747.2 148.5 l3.6 3.6 l-3.6 3.6 z" fill="#fff" stroke="#111" stroke-width="1.2"/>
<path d="M751.5 228.5 H777 q5 0 5 6.5 q0 6.5 -5 6.5 H751.5 L754.5 235 Z" fill="#f8f4d8" stroke="#111" stroke-width="1.6"/>
<text x="767" y="239" font-size="10" font-weight="bold" fill="#111" text-anchor="middle" textLength="22" lengthAdjust="spacingAndGlyphs"  stroke="#111" stroke-width="0.5">?1:0</text>
<path d="M782 234.7 H804" fill="none" stroke="#2a2a9a" stroke-width="2.4"/>
<path d="M833 234.8 H877" fill="none" stroke="#2a2a9a" stroke-width="1.6"/>
<path d="M864 249.8 H869.5 L871.5 246.6 H877" fill="none" stroke="#2a2a9a" stroke-width="1.6"/>
<path d="M804 220 L833.7 234.8 L804 249.8 Z" fill="#f8f4d8" stroke="#111" stroke-width="2"/>
<path d="M815.4 230 V228 H807.2 L812.6 234.5 L807.2 241 H815.4 V239" fill="none" stroke="#111" stroke-width="2.6" stroke-linejoin="miter"/>
<rect x="848.6" y="239.4" width="13.9" height="21.1" fill="#fff" stroke="#2a2a96" stroke-width="3"/>
<path d="M855.3 255.3 V244 L851.8 246.6" fill="none" stroke="#111" stroke-width="2.1" stroke-linejoin="round"/>
<path d="M876.5 229 L901.5 241 L876.5 253 Z" fill="#f8f4d8" stroke="#111" stroke-width="2"/>
<path d="M881.9 237.9 L887.8 241.1 L881.9 244.3" fill="none" stroke="#111" stroke-width="2.6" stroke-linecap="round" stroke-linejoin="round"/>
<path d="M901.5 241.2 H952" stroke="#5e7e60" stroke-width="1.8" stroke-dasharray="1.3 1.1"/>
<rect x="916.2" y="214.7" width="17.1" height="21.1" fill="#fff" stroke="#b8208e" stroke-width="2.6"/>
<rect x="915" y="213.5" width="3.5" height="23.5" fill="#b8208e"/>
<text x="925.75" y="231.2" font-size="15" font-weight="normal" fill="#1a1a3a" text-anchor="middle"  stroke="#1a1a3a" stroke-width="0.5">Y</text>
<rect x="916.2" y="245.2" width="18.6" height="21.1" fill="#fff" stroke="#b8208e" stroke-width="2.6"/>
<rect x="915" y="244" width="3.5" height="23.5" fill="#b8208e"/>
<text x="926.5" y="261.7" font-size="15" font-weight="normal" fill="#1a1a3a" text-anchor="middle"  stroke="#1a1a3a" stroke-width="0.5">N</text>
<path d="M934.50 225.00 Q935.30 226.60 936.10 225.00 Q936.90 223.40 937.70 225.00 Q938.50 226.60 939.30 225.00 Q940.10 223.40 940.90 225.00 Q941.70 226.60 942.50 225.00 Q940.90 225.88 942.50 226.75 Q944.10 227.62 942.50 228.50 Q943.29 230.10 944.08 228.50 Q944.88 226.90 945.67 228.50 Q946.46 230.10 947.25 228.50 Q948.04 226.90 948.83 228.50 Q949.62 230.10 950.42 228.50 Q951.21 226.90 952.00 228.50" fill="none" stroke="#c03aa0" stroke-width="1.7" stroke-linejoin="round"/>
<path d="M936.00 256.00 Q936.81 257.60 937.62 256.00 Q938.44 254.40 939.25 256.00 Q940.06 257.60 940.88 256.00 Q941.69 254.40 942.50 256.00 Q944.10 255.25 942.50 254.50 Q940.90 253.75 942.50 253.00 Q944.10 252.25 942.50 251.50 Q943.29 253.10 944.08 251.50 Q944.88 249.90 945.67 251.50 Q946.46 253.10 947.25 251.50 Q948.04 249.90 948.83 251.50 Q949.62 253.10 950.42 251.50 Q951.21 249.90 952.00 251.50" fill="none" stroke="#c03aa0" stroke-width="1.7" stroke-linejoin="round"/>
<path d="M985.00 239.50 Q985.78 241.10 986.56 239.50 Q987.33 237.90 988.11 239.50 Q988.89 241.10 989.67 239.50 Q990.44 237.90 991.22 239.50 Q992.00 241.10 992.78 239.50 Q993.56 237.90 994.33 239.50 Q995.11 241.10 995.89 239.50 Q996.67 237.90 997.44 239.50 Q998.22 241.10 999.00 239.50" fill="none" stroke="#c03aa0" stroke-width="1.7" stroke-linejoin="round"/>
<path d="M952 223.2 L985.3 239.5 L952 256 Z" fill="#f8f4d8" stroke="#111" stroke-width="2"/>
<path d="M955.8 229.8 L964.5 239.4 L955.8 249" fill="none" stroke="#111" stroke-width="2.8" stroke-linecap="round" stroke-linejoin="round"/>
<path d="M964.5 239.4 H976.5" fill="none" stroke="#111" stroke-width="3.2" stroke-linecap="round"/>
<path d="M967.8 233.2 v3.4 M967.8 242.3 v3.6 M966.5 233.2 h2.6 M966.5 242.3 h2.4 M966.5 244 h2" fill="none" stroke="#111" stroke-width="1"/>
<text x="954.3" y="243.8" font-size="8.5" font-weight="bold" fill="#111" text-anchor="start"  stroke="#111" stroke-width="0.3">?</text>
<text x="999.2" y="210.3" font-size="15" font-weight="normal" fill="#1a1a1a" text-anchor="start" textLength="57.4" lengthAdjust="spacingAndGlyphs"  stroke="#1a1a1a" stroke-width="0.5">Decision</text>
<rect x="998.7" y="216.9" width="46.2" height="44.6" fill="#fff" stroke="#c030a0" stroke-width="1.6"/>
<path d="M1012.6 258.2 H1002.4 V220.4 H1040.8 V258.2 H1031.2" fill="#fff" stroke="#c030a0" stroke-width="1.6"/>
<rect x="1003.3" y="221.3" width="36.6" height="36" fill="#e9ebe9"/>
<rect x="1005" y="232.4" width="32.4" height="12.7" fill="#d4d6d4"/>
<path d="M1005 245 V232.4 H1037.4" fill="none" stroke="#8a8a8a" stroke-width="1"/>
<path d="M1012.6 262 V251.3 H1031.2 V262" fill="#fff" stroke="#c030a0" stroke-width="1.5"/>
<text x="1010.6" y="243.2" font-size="10.5" font-weight="bold" fill="#111" text-anchor="start" textLength="17.4" lengthAdjust="spacingAndGlyphs"  stroke="#111" stroke-width="0.2">abc</text>
<text x="1021.9" y="260.6" font-size="9" font-weight="bold" fill="#c030a0" text-anchor="middle" textLength="15" lengthAdjust="spacingAndGlyphs"  stroke="#c030a0" stroke-width="0.3">abc</text>
<path d="M1000.4 235.6 v8" stroke="#111" stroke-width="1.4"/>
<path d="M1000.9 236.2 l3.4 3.4 l-3.4 3.4 z" fill="#fff" stroke="#111" stroke-width="1.2"/>
</svg>
</body></html>
